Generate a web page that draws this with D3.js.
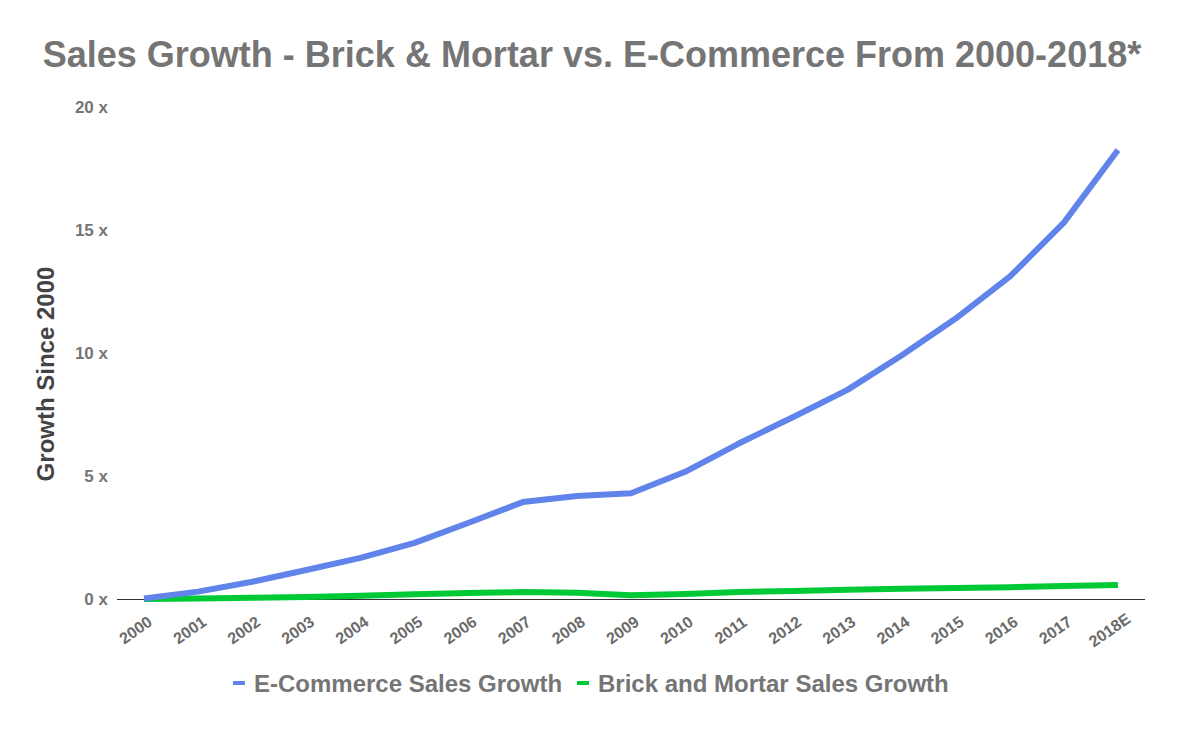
<!DOCTYPE html>
<html>
<head>
<meta charset="utf-8">
<script src="https://cdn.jsdelivr.net/npm/d3@7"></script>
<style>
  html, body { margin: 0; padding: 0; background: #fff; }
  svg { display: block; font-family: "Liberation Sans", Arial, sans-serif; }
</style>
</head>
<body>
<svg id="chart" width="1187" height="734"></svg>
<script>
const years = ["2000","2001","2002","2003","2004","2005","2006","2007","2008","2009","2010","2011","2012","2013","2014","2015","2016","2017","2018E"];
const ecommerce = [0.02, 0.3, 0.7, 1.18, 1.67, 2.28, 3.1, 3.94, 4.19, 4.3, 5.17, 6.33, 7.4, 8.5, 9.9, 11.4, 13.1, 15.3, 18.25];
const brickMortar = [0, 0.02, 0.05, 0.08, 0.13, 0.19, 0.24, 0.28, 0.25, 0.15, 0.2, 0.28, 0.33, 0.38, 0.42, 0.45, 0.48, 0.53, 0.57];
const yTicks = [0, 5, 10, 15, 20];
const seriesNames = ["E-Commerce Sales Growth", "Brick and Mortar Sales Growth"];
const seriesColors = ["#6184ea", "#00c936"];
const titleText = "Sales Growth - Brick & Mortar vs. E-Commerce From 2000-2018*";
const yTitle = "Growth Since 2000";

const svg = d3.select("#chart");
const pLeft = 117, pRight = 1145, pTop = 107, pBottom = 599;

const x = d3.scalePoint().domain(years).range([pLeft, pRight]).padding(0.5);
const y = d3.scaleLinear().domain([0, 20]).range([pBottom, pTop]);

// Title
svg.append("text")
  .attr("x", 592).attr("y", 67)
  .attr("text-anchor", "middle")
  .attr("font-size", 36).attr("font-weight", "bold")
  .attr("fill", "#757575")
  .text(titleText);

// Y axis
const yAxis = d3.axisLeft(y).tickValues(yTicks).tickSize(0).tickPadding(0).tickFormat(d => d + " x");
const yg = svg.append("g").attr("transform", `translate(108,0)`).call(yAxis);
yg.select(".domain").remove();
yg.selectAll("text")
  .attr("font-size", 17).attr("font-weight", "bold")
  .attr("fill", "#757575").attr("font-family", "Liberation Sans, Arial, sans-serif");

// Y title
svg.append("text")
  .attr("transform", `translate(54,374) rotate(-90)`)
  .attr("text-anchor", "middle")
  .attr("font-size", 24).attr("font-weight", "bold")
  .attr("fill", "#444444")
  .text(yTitle);

// X axis
const xAxis = d3.axisBottom(x).tickSize(0).tickPadding(0);
const xg = svg.append("g").attr("transform", `translate(0,${pBottom})`).call(xAxis);
xg.select(".domain").attr("stroke", "#333").attr("d", `M${pLeft},0.5H${pRight}`);
xg.selectAll(".tick text")
  .attr("font-size", 16).attr("font-weight", "bold")
  .attr("fill", "#6b6b6b").attr("font-family", "Liberation Sans, Arial, sans-serif")
  .attr("text-anchor", "middle")
  .attr("y", 0).attr("dy", "0.35em")
  .attr("transform", "translate(-9,31) rotate(-35)");

// Lines (green underneath, blue on top)
const line = d3.line().x((d, i) => x(years[i])).y(d => y(d));
[[brickMortar, seriesColors[1]], [ecommerce, seriesColors[0]]].forEach(([vals, col]) => {
  svg.append("path")
    .datum(vals)
    .attr("fill", "none")
    .attr("stroke", col)
    .attr("stroke-width", 6)
    .attr("stroke-linejoin", "round")
    .attr("stroke-linecap", "butt")
    .attr("d", line);
});

// Legend
const legend = svg.append("g").attr("transform", "translate(0,683)");
const legendX = [233, 577];
seriesNames.forEach((name, k) => {
  legend.append("rect")
    .attr("x", legendX[k]).attr("y", -2).attr("width", 12).attr("height", 4)
    .attr("fill", seriesColors[k]);
  legend.append("text")
    .attr("x", legendX[k] + 21).attr("y", 9)
    .attr("font-size", 24).attr("font-weight", "bold")
    .attr("fill", "#757575")
    .text(name);
});
</script>
</body>
</html>
